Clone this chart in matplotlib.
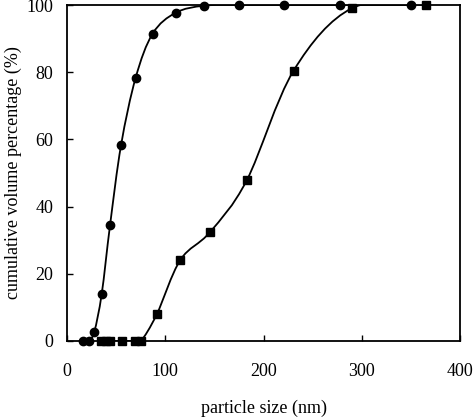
import matplotlib

matplotlib.use("Agg")
import matplotlib.pyplot as plt
from matplotlib.path import Path
from matplotlib.patches import PathPatch

# cumulative volume percentage vs particle size
circle_size = [16.6, 22.0, 27.8, 35.3, 43.8, 55.0, 69.9, 87.2, 110.6, 139.4, 175.0, 221.0, 278.0, 350.0]
circle_pct = [0, 0, 2.8, 14.0, 34.5, 58.3, 78.4, 91.5, 97.7, 99.8, 100, 100, 100, 100]

square_size = [34.6, 39.7, 43.8, 55.7, 69.0, 75.3, 91.3, 115.3, 145.5, 182.9, 230.7, 290.4, 365.4]
square_pct = [0, 0, 0, 0, 0, 0, 7.9, 24.1, 32.4, 47.8, 80.5, 99.1, 100]

x_ticks = [0, 100, 200, 300, 400]
y_ticks = [0, 20, 40, 60, 80, 100]


def smooth_path(xs, ys):
    # Excel-style smoothed line: cubic Bezier segments through every point
    pts = list(zip(xs, ys))
    verts = [pts[0]]
    codes = [Path.MOVETO]
    n = len(pts)
    for i in range(n - 1):
        p0 = pts[i - 1] if i > 0 else pts[i]
        p1 = pts[i]
        p2 = pts[i + 1]
        p3 = pts[i + 2] if i + 2 < n else pts[i + 1]
        c1 = (p1[0] + (p2[0] - p0[0]) / 6.0, p1[1] + (p2[1] - p0[1]) / 6.0)
        c2 = (p2[0] - (p3[0] - p1[0]) / 6.0, p2[1] - (p3[1] - p1[1]) / 6.0)
        verts += [c1, c2, p2]
        codes += [Path.CURVE4] * 3
    return Path(verts, codes)


plt.rcParams["font.family"] = ["Liberation Serif", "DejaVu Serif"]

fig = plt.figure(figsize=(4.74, 4.17), dpi=100)
ax = fig.add_axes([0.1414, 0.1823, 0.8291, 0.8057])

for xs, ys in [(circle_size, circle_pct), (square_size, square_pct)]:
    ax.add_patch(PathPatch(smooth_path(xs, ys), facecolor="none", edgecolor="black",
                           linewidth=1.3, transform=ax.transData, zorder=2))

ax.plot(circle_size, circle_pct, linestyle="", marker="o", markersize=6,
        color="black", clip_on=False, zorder=3)
ax.plot(square_size, square_pct, linestyle="", marker="s", markersize=5.5,
        color="black", clip_on=False, zorder=3)

ax.set_xlim(0, 400)
ax.set_ylim(0, 100)
ax.set_xticks(x_ticks)
ax.set_yticks(y_ticks)
ax.tick_params(direction="in", length=4, width=1, labelsize=13, colors="black")
ax.tick_params(axis="x", pad=16)
ax.tick_params(axis="y", pad=10)
for side in ax.spines.values():
    side.set_linewidth(1.3)

ax.set_xlabel("particle size (nm)", fontsize=13)
ax.set_ylabel("cumulative volume percentage (%)", fontsize=13)
ax.xaxis.set_label_coords(0.5, -0.175)
ax.yaxis.set_label_coords(-0.115, 0.5)

fig.savefig("out.png", dpi=100)
